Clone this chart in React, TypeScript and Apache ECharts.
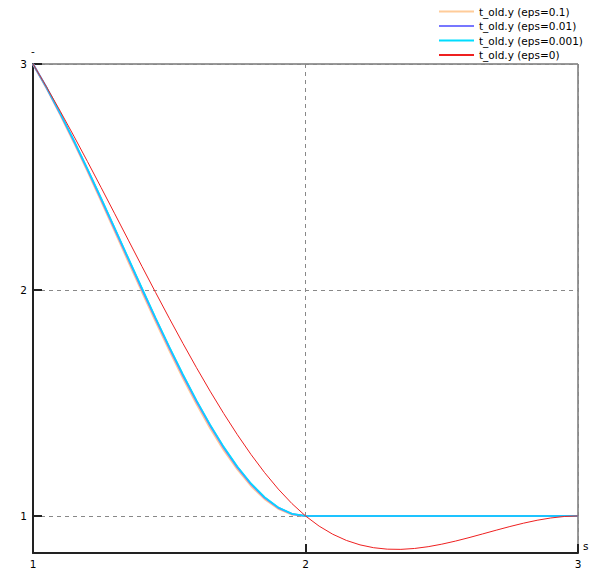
import React, { useEffect, useRef } from "react";
import * as echarts from "echarts";

const X = [
  1.0, 1.05, 1.1, 1.15, 1.2, 1.25, 1.3, 1.35, 1.4, 1.45, 1.5, 1.55, 1.6, 1.65, 1.7, 1.75, 1.8, 1.85, 1.9, 1.95,
  2.0, 2.05, 2.1, 2.15, 2.2, 2.25, 2.3, 2.35, 2.4, 2.45, 2.5, 2.55, 2.6, 2.65, 2.7, 2.75, 2.8, 2.85, 2.9, 2.95, 3.0,
];

const EPS_01 = [
  3.0, 2.892, 2.7757, 2.6529, 2.5248, 2.3932, 2.2593, 2.1249, 1.9912, 1.86, 1.7325, 1.6105, 1.4952, 1.3884, 1.2913,
  1.2057, 1.1328, 1.0744, 1.0317, 1.0065, 1.0, 1, 1, 1, 1, 1, 1, 1, 1, 1, 1, 1, 1, 1, 1, 1, 1, 1, 1, 1, 1,
];

const EPS_001 = [
  3.0, 2.8944, 2.7802, 2.6593, 2.5328, 2.4025, 2.2698, 2.1362, 2.0032, 1.8723, 1.745, 1.6228, 1.5072, 1.3998, 1.3018,
  1.215, 1.1408, 1.0807, 1.0362, 1.0088, 1.0, 1, 1, 1, 1, 1, 1, 1, 1, 1, 1, 1, 1, 1, 1, 1, 1, 1, 1, 1, 1,
];

const EPS_0001 = [
  3.0, 2.8953, 2.782, 2.6618, 2.536, 2.4063, 2.274, 2.1408, 2.008, 1.8773, 1.75, 1.6278, 1.512, 1.4043, 1.306, 1.2188,
  1.144, 1.0833, 1.038, 1.0098, 1.0, 1, 1, 1, 1, 1, 1, 1, 1, 1, 1, 1, 1, 1, 1, 1, 1, 1, 1, 1, 1,
];

const EPS_0 = [
  3.0, 2.8976, 2.791, 2.6809, 2.568, 2.4531, 2.337, 2.2204, 2.104, 1.9886, 1.875, 1.7639, 1.656, 1.5521, 1.453, 1.3594,
  1.272, 1.1916, 1.119, 1.0549, 1.0, 0.9549, 0.919, 0.8916, 0.872, 0.8594, 0.853, 0.8521, 0.856, 0.8639, 0.875,
  0.8886, 0.904, 0.9204, 0.937, 0.9531, 0.968, 0.9809, 0.991, 0.9976, 1.0,
];

const SERIES_NAMES = ["t_old.y (eps=0.1)", "t_old.y (eps=0.01)", "t_old.y (eps=0.001)", "t_old.y (eps=0)"];
const Y_TICKS = [1, 2, 3];

const FONT = "DejaVu Sans";

export default function App() {
  const ref = useRef<HTMLDivElement>(null);

  useEffect(() => {
    document.body.style.margin = "0";
    if (!ref.current) return;
    const chart = echarts.init(ref.current, null, { renderer: "svg" });
    const pairs = (ys: number[]) => X.map((x, i) => [x, ys[i]]);
    const styles = [
      { color: "#FFCC99", width: 2 },
      { color: "#7777FF", width: 2 },
      { color: "#00DDFF", width: 1.5 },
      { color: "#EE2020", width: 1 },
    ];
    const datasets = [EPS_01, EPS_001, EPS_0001, EPS_0];
    chart.setOption({
      animation: false,
      backgroundColor: "#ffffff",
      textStyle: { fontFamily: FONT },
      legend: {
        orient: "vertical",
        left: 438,
        top: 6,
        itemWidth: 35,
        itemHeight: 10,
        itemGap: 3.5,
        padding: 0,
        itemStyle: { opacity: 0 },
        textStyle: { fontSize: 10.5, color: "#000", fontFamily: FONT },
        data: SERIES_NAMES,
      },
      grid: {
        left: 33,
        right: 27,
        top: 64,
        bottom: 33,
        show: true,
        borderColor: "#333",
        borderWidth: 1,
        backgroundColor: "transparent",
      },
      xAxis: {
        type: "value",
        min: 1,
        max: 3,
        interval: 1,
        name: "s",
        nameLocation: "end",
        nameGap: 5,
        nameTextStyle: { fontSize: 10.5, color: "#000", verticalAlign: "bottom", padding: [0, 0, 2, 0] },
        axisLine: { show: true, lineStyle: { color: "#222", width: 2 } },
        axisTick: { show: true, inside: true, length: 9, lineStyle: { color: "#222", width: 2 } },
        axisLabel: { fontSize: 10.5, color: "#000", margin: 5, fontFamily: FONT },
        splitLine: { show: true, lineStyle: { color: "#888", type: [4, 4], width: 1 } },
      },
      yAxis: {
        type: "value",
        min: 0.836,
        max: 3,
        name: "-",
        nameLocation: "end",
        nameGap: 8,
        nameTextStyle: { fontSize: 10.5, color: "#000" },
        axisLine: { show: true, lineStyle: { color: "#222", width: 2 } },
        axisTick: { show: true, inside: true, length: 9, customValues: Y_TICKS, lineStyle: { color: "#222", width: 2 } },
        axisLabel: { fontSize: 10.5, color: "#000", margin: 6, customValues: Y_TICKS, fontFamily: FONT },
        splitLine: { show: true, lineStyle: { color: "#888", type: [4, 4], width: 1 } },
      },
      series: SERIES_NAMES.map((name, i) => ({
        name,
        type: "line",
        data: pairs(datasets[i]),
        symbol: "none",
        showSymbol: false,
        lineStyle: { color: styles[i].color, width: styles[i].width },
        itemStyle: { color: styles[i].color },
        z: 2 + i,
      })),
    });
    return () => chart.dispose();
  }, []);

  return <div ref={ref} style={{ width: 605, height: 586 }} />;
}
